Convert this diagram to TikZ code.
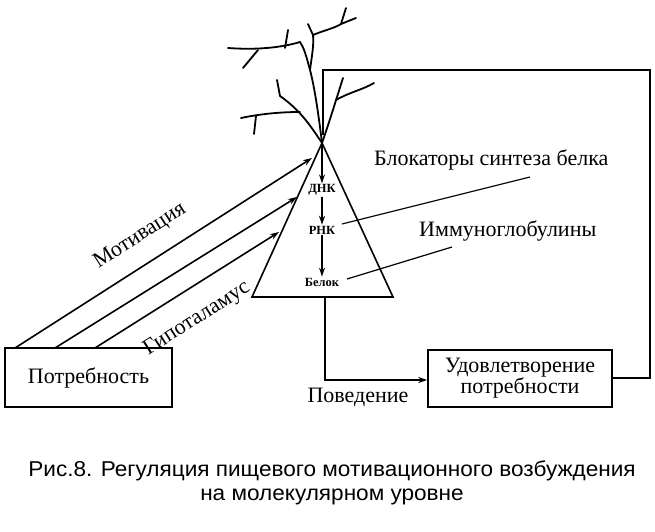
\documentclass[tikz,border=0pt]{standalone}
\usepackage{fontspec}
\setmainfont{Liberation Serif}
\newfontfamily\capfont{Liberation Sans}
\usetikzlibrary{arrows.meta}
\begin{document}
\begin{tikzpicture}[x=1pt,y=-1pt,
  ln/.style={line width=1.6pt},
  arr/.style={ln,-{Stealth[length=9pt,width=6pt]}},
  dend/.style={line width=1.8pt,line cap=round,line join=round},
  lbl/.style={font=\fontsize{22}{24}\selectfont,inner sep=1pt},
  small/.style={font=\fontsize{12.5}{13}\selectfont\bfseries,inner sep=1pt},
  boxst/.style={draw,line width=1.6pt,inner sep=0pt,font=\fontsize{22}{24}\selectfont,align=center}]
\useasboundingbox (0,0) rectangle (655,532);
\fill[white] (0,0) rectangle (655,532);
% triangle
\coordinate (apex) at (322,143);
\coordinate (bl) at (252,297);
\coordinate (br) at (393,297);
\draw[ln,line join=miter] (apex) -- (bl) -- (br) -- cycle;
% dendrites
\draw[dend] (apex) .. controls (318,110) and (314,85) .. (310,70) .. controls (306,55) and (304,48) .. (300,42);
\draw[dend] (300,42) .. controls (280,48) and (255,50) .. (228,48);
\draw[dend] (258,50) -- (243,68);
\draw[dend] (285,48) -- (288,30);
\draw[dend] (310,70) .. controls (312,55) and (314,45) .. (313,35) -- (308,24);
\draw[dend] (313,35) .. controls (325,30) and (335,28) .. (341,24) -- (346,8);
\draw[dend] (341,24) -- (356,18);
\draw[dend] (apex) .. controls (310,125) and (300,110) .. (280,96) -- (277,80);
\draw[dend] (300,112) .. controls (280,112) and (260,114) .. (241,118);
\draw[dend] (256,116) -- (254,134);
\draw[dend] (apex) .. controls (330,120) and (336,100) .. (343,78);
\draw[dend] (336,100) .. controls (350,92) and (362,90) .. (374,83);
% inner chain
\node[small] (dnk) at (322,190) {ДНК};
\node[small] (rnk) at (322,230) {РНК};
\node[small] (bel) at (322,282) {Белок};
\draw[arr] (apex) -- (dnk.north);
\draw[arr] (dnk) -- (rnk);
\draw[arr] (rnk) -- (bel);
% boxes
\node[boxst,minimum width=167pt,minimum height=59pt] (need) at (88.5,377.5) {Потребность};
\node[boxst,minimum width=184pt,minimum height=57pt] (sat) at (520,378.5) {Удовлетворение\\[-3pt]потребности};
% input arrows
\coordinate (s1) at (15,348); \coordinate (e1) at (312,158);
\coordinate (s2) at (55,348); \coordinate (e2) at (297,197);
\coordinate (s3) at (95,348); \coordinate (e3) at (279,232);
\draw[arr] (s1) -- (e1);
\draw[arr] (s2) -- (e2);
\draw[arr] (s3) -- (e3);
\node[lbl,rotate=32.5] (mot) at (140,236) {Мотивация};
\node[lbl,rotate=32.5] (gip) at (197,319) {Гипоталамус};
% labels right
\node[lbl,anchor=west] (blk) at (373,160) {Блокаторы синтеза белка};
\node[lbl,anchor=west] (imm) at (418,231) {Иммуноглобулины};
\coordinate (b1) at (530,177);
\coordinate (i1) at (452,247);
\draw[line width=1.2pt] (b1) -- (342,224);
\draw[line width=1.2pt] (i1) -- (347,279);
% behaviour
\coordinate (bb) at (325,297);
\draw[arr] (bb) -- (325,380) -- (sat.west |- 0,380);
\node[lbl] (beh) at (358,397) {Поведение};
% feedback
\draw[ln] (sat.east |- 0,378) -- (650,378) -- (650,70) -- (323,70) -- (323,135);
% caption
\node[font=\capfont\fontsize{21.5}{24}\selectfont,align=center,xscale=1.05] (cap) at (332,483) {Рис.8. Регуляция пищевого мотивационного возбуждения\\на молекулярном уровне};
\end{tikzpicture}
\end{document}
